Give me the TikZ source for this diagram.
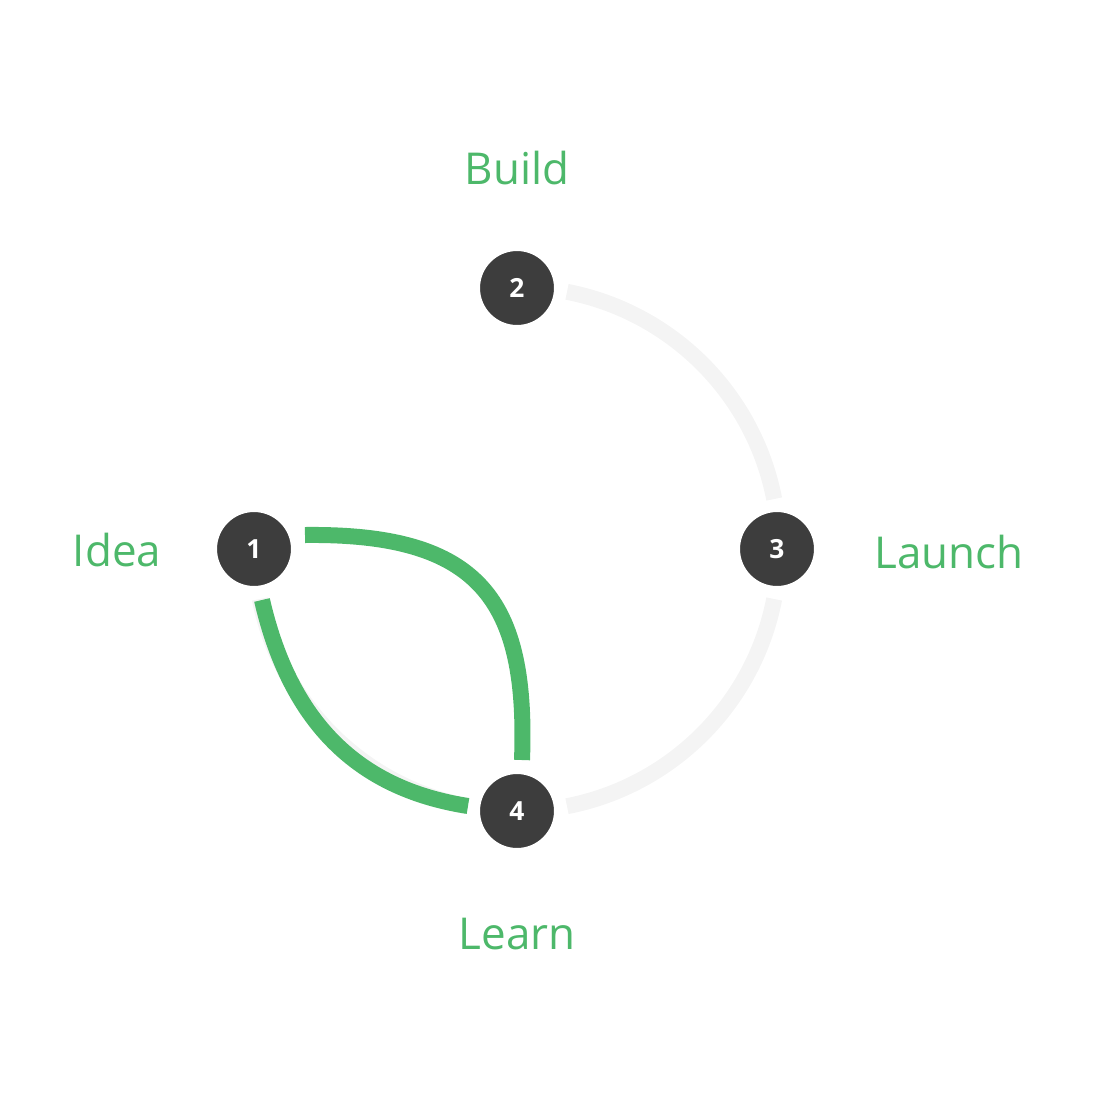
\documentclass[tikz,border=0pt]{standalone}
\usepackage{fontspec}
\setmainfont{Open Sans}
\definecolor{grn}{HTML}{4DB86A}
\definecolor{dk}{HTML}{3D3D3D}
\definecolor{lg}{HTML}{F4F4F4}
\begin{document}
\begin{tikzpicture}[x=0.02cm,y=-0.02cm,
  num/.style={circle,fill=dk,draw=white,line width=4pt,minimum size=1.62cm,inner sep=0,text=white,font=\bfseries\fontsize{15}{18}\selectfont},
  lab/.style={text=grn,font=\fontsize{25}{30}\selectfont},
  ring/.style={draw=lg,line width=0.32cm},
  gl/.style={draw=grn,line width=0.32cm}]
\useasboundingbox (0,0) rectangle (1100,1100);
\coordinate (c) at (517,549);
\draw[ring] (c) ++(11:262) arc[start angle=11,end angle=79,radius=262];
\draw[ring] (c) ++(101:262) arc[start angle=101,end angle=169,radius=262];
\draw[ring] (c) ++(-11:262) arc[start angle=-11,end angle=-79,radius=262];
\coordinate (a1) at (305,535);
\coordinate (a2) at (522,760);
\coordinate (b1) at (262,600);
\coordinate (b2) at (468,806);
\draw[gl] (a1) .. controls (480,533) and (528,600) .. (a2);
\draw[gl] (b1) .. controls (292,730) and (365,790) .. (b2);
\node[num] (n1) at (254,549) {1};
\node[num] (n2) at (517,288) {2};
\node[num] (n3) at (777,549) {3};
\node[num] (n4) at (517,811) {4};
\node[lab] (l1) at (117,550) {Idea};
\node[lab] (l2) at (517,168) {Build};
\node[lab] (l3) at (949,552) {Launch};
\node[lab] (l4) at (517,934) {Learn};
\end{tikzpicture}
\end{document}
